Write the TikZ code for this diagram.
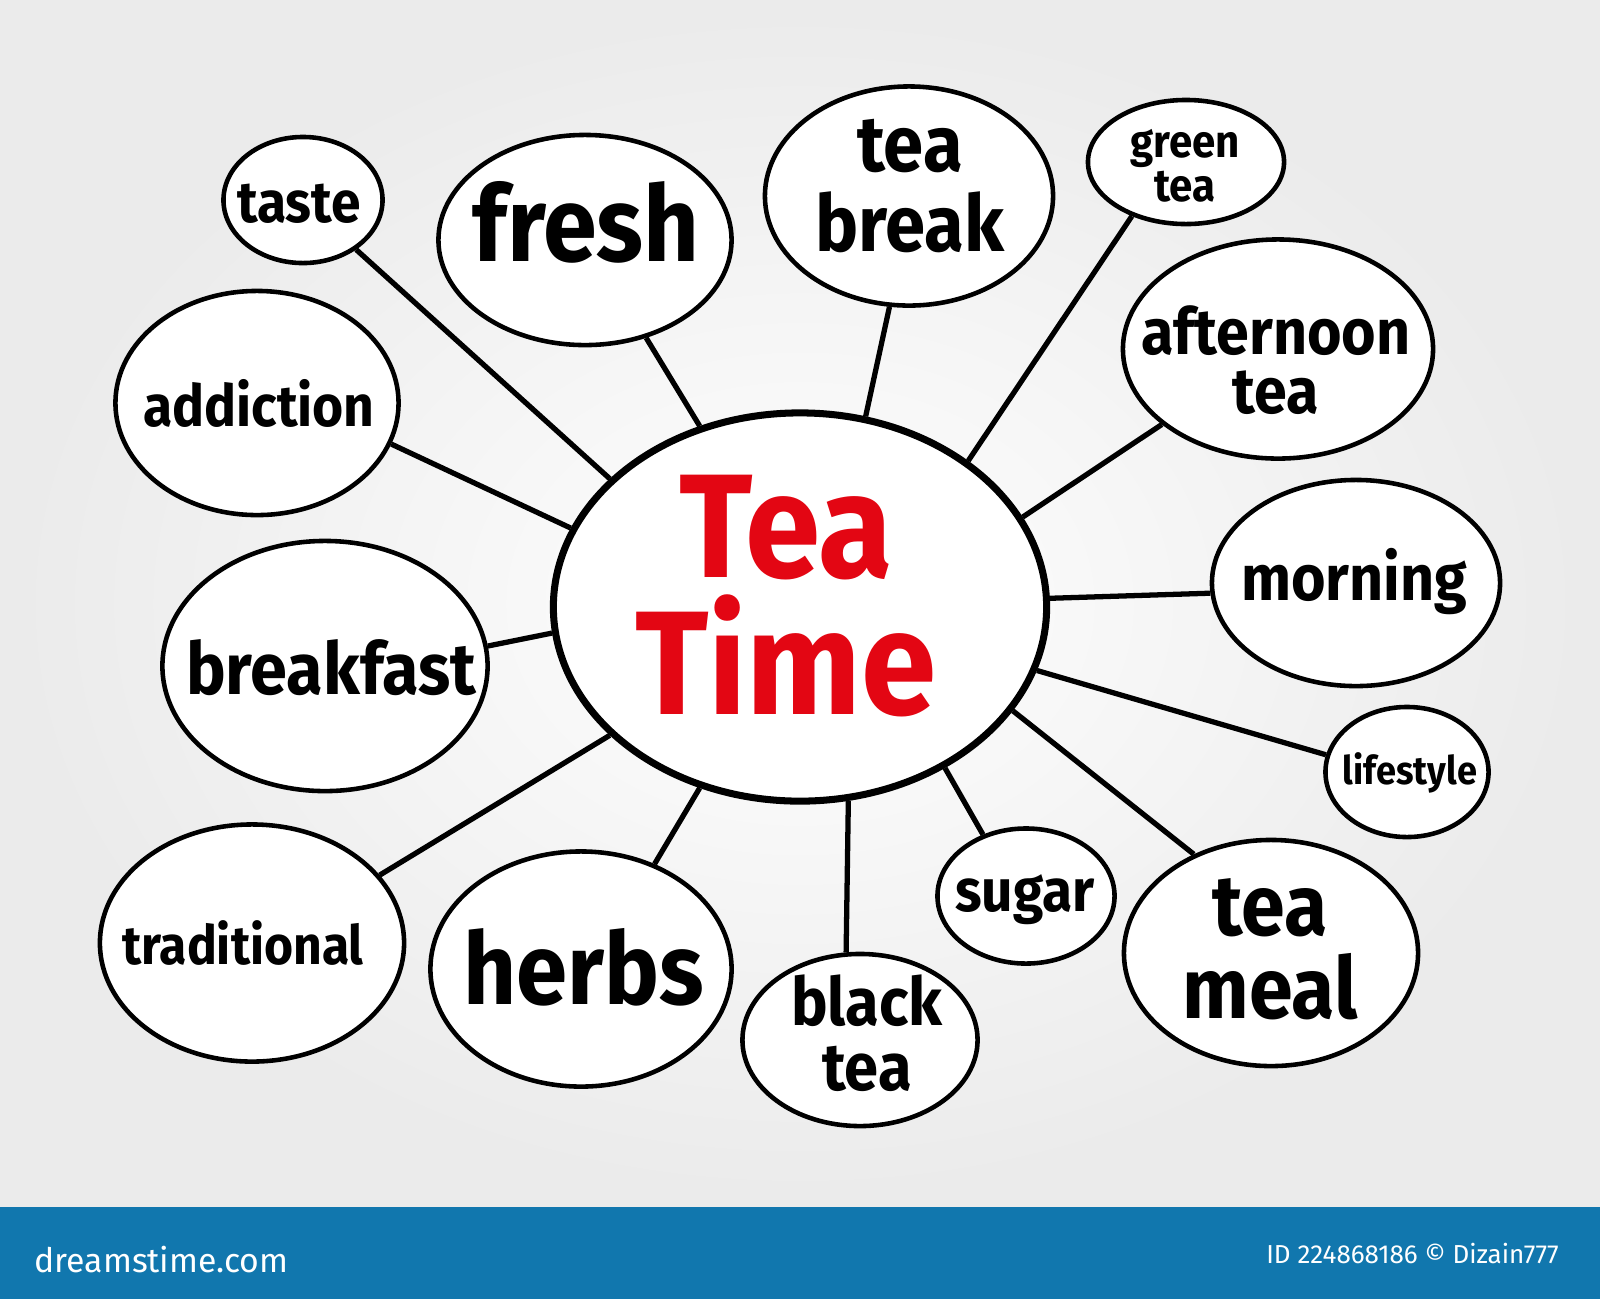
\documentclass[tikz,border=0pt]{standalone}
\usepackage{fontspec}
\setmainfont{Fira Sans}
\newfontfamily\handfont{Fira Sans}[FakeStretch=0.92]
\usetikzlibrary{shapes}
\usepackage{xcolor}
\definecolor{teared}{HTML}{E30613}
\definecolor{barblue}{HTML}{1177AE}
\newcommand{\hand}[2]{\handfont\bfseries\fontsize{#1}{#2}\selectfont}
\tikzstyle{bubble} = [ellipse, draw, fill=white, line width=1.3pt, inner sep=0pt]
\tikzstyle{hub} = [bubble, line width=2pt]
\tikzstyle{word} = [align=center, inner sep=0pt]
\tikzstyle{spoke} = [line width=1.5pt]

\begin{document}
\begin{tikzpicture}[x=0.01cm, y=-0.01cm]
    % Background and bar
    \shade [inner color=white, outer color=black!8] (0,0) rectangle (1600,1207);
    \fill [barblue] (0,1207) rectangle (1600,1299);
    \useasboundingbox (0,0) rectangle (1600,1299);
    % Place nodes
    \node [hub, minimum width=4.93cm, minimum height=3.88cm] (teatime) at (800,607) {};
    \node [word, text=teared, font=\hand{42pt}{39pt}] (teatime-t) at (786,596) {Tea\\Time};
    \node [bubble, minimum width=1.59cm, minimum height=1.26cm] (taste) at (303,200) {};
    \node [word, font=\hand{16.5pt}{17pt}] (taste-t) at (299,204) {taste};
    \node [bubble, minimum width=2.93cm, minimum height=2.10cm] (fresh) at (585,240) {};
    \node [word, font=\hand{30pt}{30pt}] (fresh-t) at (586,222) {fresh};
    \node [bubble, minimum width=2.88cm, minimum height=2.19cm] (teabreak) at (909,196) {};
    \node [word, font=\hand{22.4pt}{23pt}] (teabreak-t) at (910,186) {tea\\break};
    \node [bubble, minimum width=1.96cm, minimum height=1.24cm] (greentea) at (1186,162) {};
    \node [word, font=\hand{13pt}{11pt}] (greentea-t) at (1185,166) {green\\tea};
    \node [bubble, minimum width=3.10cm, minimum height=2.19cm] (afternoon) at (1278,349) {};
    \node [word, font=\hand{18.3pt}{17pt}] (afternoon-t) at (1276,360) {afternoon\\tea};
    \node [bubble, minimum width=2.88cm, minimum height=2.06cm] (morning) at (1356,583) {};
    \node [word, font=\hand{18.3pt}{18pt}] (morning-t) at (1354,582) {morning};
    \node [bubble, minimum width=1.63cm, minimum height=1.30cm] (lifestyle) at (1407,772) {};
    \node [word, font=\hand{11.2pt}{12pt}] (lifestyle-t) at (1410,773) {lifestyle};
    \node [bubble, minimum width=2.94cm, minimum height=2.26cm] (teameal) at (1271,953) {};
    \node [word, font=\hand{24.4pt}{23.5pt}] (teameal-t) at (1270,949) {tea\\meal};
    \node [bubble, minimum width=1.77cm, minimum height=1.35cm] (sugar) at (1026,896) {};
    \node [word, font=\hand{17pt}{17pt}] (sugar-t) at (1025,900) {sugar};
    \node [bubble, minimum width=2.35cm, minimum height=1.72cm] (blacktea) at (860,1040) {};
    \node [word, font=\hand{19pt}{18.5pt}] (blacktea-t) at (867,1033) {black\\tea};
    \node [bubble, minimum width=3.01cm, minimum height=2.35cm] (herbs) at (581,969) {};
    \node [word, font=\hand{28.5pt}{28pt}] (herbs-t) at (584,967) {herbs};
    \node [bubble, minimum width=3.04cm, minimum height=2.37cm] (traditional) at (252,943) {};
    \node [word, font=\hand{15.4pt}{16pt}] (traditional-t) at (243,943) {traditional};
    \node [bubble, minimum width=3.25cm, minimum height=2.50cm] (breakfast) at (325,666) {};
    \node [word, font=\hand{20.6pt}{21pt}] (breakfast-t) at (331,668) {breakfast};
    \node [bubble, minimum width=2.83cm, minimum height=2.24cm] (addiction) at (257,403) {};
    \node [word, font=\hand{16.5pt}{17pt}] (addiction-t) at (259,403) {addiction};
    % Draw edges
    \draw [spoke] (teatime.146) -- (taste.-43);
    \draw [spoke] (teatime.119) -- (fresh.-58);
    \draw [spoke] (teatime.71) -- (teabreak.260);
    \draw [spoke] (teatime.41) -- (greentea.225);
    \draw [spoke] (teatime.22) -- (afternoon.213);
    \draw [spoke] (teatime.2) -- (morning.184);
    \draw [spoke] (teatime.-15) -- (lifestyle.168);
    \draw [spoke] (teatime.-26) -- (teameal.128);
    \draw [spoke] (teatime.-48) -- (sugar.125);
    \draw [spoke] (teatime.-76) -- (blacktea.99);
    \draw [spoke] (teatime.241) -- (herbs.55);
    \draw [spoke] (teatime.214) -- (traditional.28);
    \draw [spoke] (teatime.186) -- (breakfast.7);
    \draw [spoke] (teatime.161) -- (addiction.-17);
    % Bar texts
    \node [anchor=base west, text=white, font=\fontsize{9.6pt}{10pt}\selectfont] (site) at (22,1272) {dreamstime.com};
    \node [anchor=base east, text=white, font=\fontsize{7.4pt}{8pt}\selectfont] (credit) at (1571,1263) {ID 224868186 © Dizain777};
\end{tikzpicture}
\end{document}
